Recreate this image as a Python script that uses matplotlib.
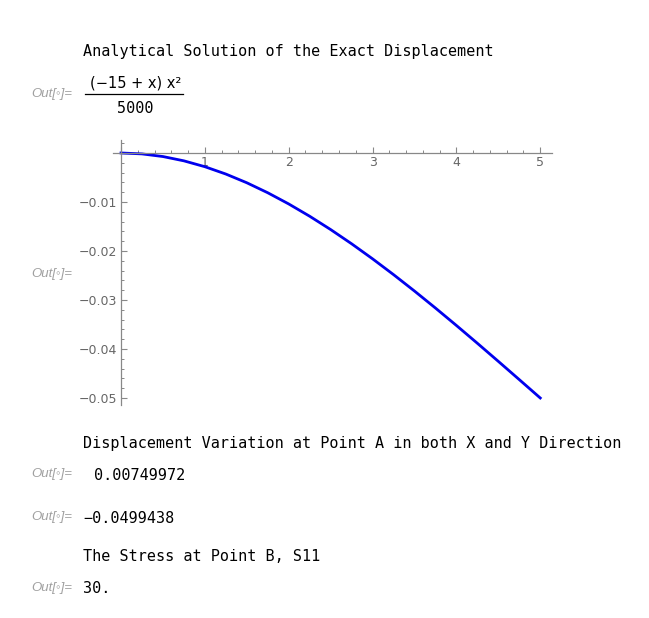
import numpy as np
import matplotlib
matplotlib.use("Agg")
import matplotlib.pyplot as plt
from matplotlib.ticker import MultipleLocator, FuncFormatter

# values of (-15 + x) x^2 / 5000
xs = [0, 0.25, 0.5, 0.75, 1, 1.25, 1.5, 1.75, 2, 2.25, 2.5, 2.75, 3,
      3.25, 3.5, 3.75, 4, 4.25, 4.5, 4.75, 5]
ys = [0, -0.000184, -0.000725, -0.001603, -0.0028, -0.004297, -0.006075,
      -0.008116, -0.0104, -0.012909, -0.015625, -0.018528, -0.0216,
      -0.024822, -0.028175, -0.031641, -0.0352, -0.038834, -0.042525,
      -0.046253, -0.05]

title1 = "Analytical Solution of the Exact Displacement"
title2 = "Displacement Variation at Point A in both X and Y Direction"
title3 = "The Stress at Point B, S11"
out_x = "0.00749972"
out_y = "-0.0499438"
out_s = "30."

W, H = 649, 618
fig = plt.figure(figsize=(W / 100, H / 100), dpi=100)
fig.patch.set_facecolor("white")

def px(x, y):
    return x / W, 1 - y / H

mono = "DejaVu Sans Mono"
out_kw = dict(fontsize=9.5, color="#a0a0a0", style="italic", family="Liberation Sans", va="center")
out_lbl = "Out[\u25e6]="

# text cells
fig.text(*px(83, 56), title1, family=mono, fontsize=10.9, va="baseline")
fig.text(*px(31, 94), out_lbl, **out_kw)
fig.text(*px(90, 87), "(\u221215 + x) x\u00b2", family="DejaVu Sans", fontsize=10.5, va="baseline")
fig.add_artist(plt.Line2D([85 / W, 183 / W], [1 - 94 / H, 1 - 94 / H], color="black", lw=0.9))
fig.text(*px(117, 113), "5000", family=mono, fontsize=10.9, va="baseline")

fig.text(*px(31, 274), out_lbl, **out_kw)

fig.text(*px(83, 448), title2, family=mono, fontsize=10.9, va="baseline")
fig.text(*px(31, 474), out_lbl, **out_kw)
fig.text(*px(94, 480), out_x, family=mono, fontsize=10.9, va="baseline")
fig.text(*px(31, 517), out_lbl, **out_kw)
fig.text(*px(83, 523), out_y.replace("-", "\u2212"), family=mono, fontsize=10.9, va="baseline")
fig.text(*px(83, 561), title3, family=mono, fontsize=10.9, va="baseline")
fig.text(*px(31, 588), out_lbl, **out_kw)
fig.text(*px(83, 593), out_s, family=mono, fontsize=10.9, va="baseline")

# plot
left, right, top, bottom = 113, 552, 140, 405
ax = fig.add_axes([left / W, 1 - bottom / H, (right - left) / W, (bottom - top) / H])
ax.plot(xs, ys, color="#0000ee", lw=2)
ax.set_xlim(-0.0955, 5.14)
ax.set_ylim(-0.05143, 0.00265)

for s in ["top", "right"]:
    ax.spines[s].set_visible(False)
for s in ["left", "bottom"]:
    ax.spines[s].set_position(("data", 0))
    ax.spines[s].set_color("#888888")
    ax.spines[s].set_linewidth(0.9)

ax.xaxis.set_major_locator(MultipleLocator(1))
ax.xaxis.set_minor_locator(MultipleLocator(0.2))
ax.yaxis.set_major_locator(MultipleLocator(0.01))
ax.yaxis.set_minor_locator(MultipleLocator(0.002))
ax.xaxis.set_major_formatter(FuncFormatter(lambda v, p: "" if abs(v) < 1e-9 else "%d" % round(v)))
ax.yaxis.set_major_formatter(FuncFormatter(lambda v, p: "" if abs(v) < 1e-9 else ("%.2f" % v).replace("-", "\u2212")))
ax.tick_params(which="both", direction="in", color="#888888", labelcolor="#666666", labelsize=9)
ax.tick_params(which="major", length=4, width=0.8)
ax.tick_params(which="minor", length=2.2, width=0.7)
ax.tick_params(axis="x", pad=2)
ax.tick_params(axis="y", pad=3)
ax.patch.set_alpha(0)

fig.savefig("out.png", dpi=100, facecolor="white")
